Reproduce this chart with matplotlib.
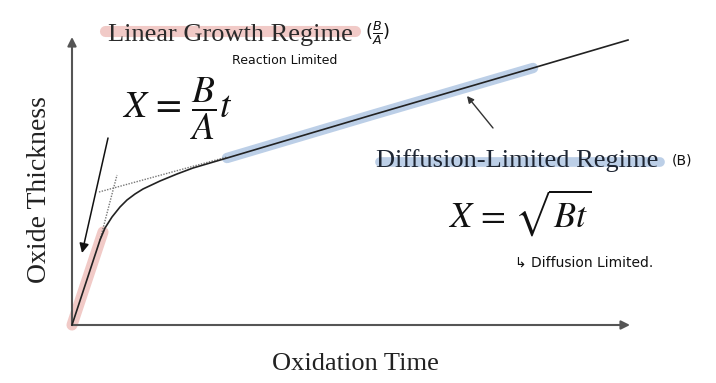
import matplotlib
matplotlib.use("Agg")
import matplotlib.pyplot as plt

plt.rcParams['mathtext.fontset'] = 'stix'

# ---- data (time, thickness) in arbitrary units ----
oxidation_time = [0, 28, 33, 40, 48, 55, 63, 71, 88, 105, 121, 138, 155, 300, 461, 556]
oxide_thickness = [0, 85, 97, 108, 118, 125, 131, 136, 144, 151, 157, 162, 167, 210, 257, 285]

linear_regime_time = [0, 31]
linear_regime_thick = [0, 93]
diffusion_regime_time = [155, 300, 461]
diffusion_regime_thick = [167, 210, 257]

tangent_parabolic_time = [27, 155]
tangent_parabolic_thick = [133, 168]
tangent_linear_time = [28, 45]
tangent_linear_thick = [85, 150]

x_label = "Oxidation Time"
y_label = "Oxide Thickness"
linear_title = "Linear Growth Regime"
diffusion_title = "Diffusion-Limited Regime"

fig = plt.figure(figsize=(7.16, 3.83), dpi=100)
ax = fig.add_axes([0, 0, 1, 1])
ax.set_xlim(-72, 644)
ax.set_ylim(-58, 325)
ax.axis('off')

red_hl = '#f1cac7'
blue_hl = '#bccfe7'
axis_col = '#555555'
serif = 'Liberation Serif'

# axes with arrows
ax.annotate('', xy=(0, 288), xytext=(0, 0),
            arrowprops=dict(arrowstyle='-|>', color=axis_col, lw=1.5, mutation_scale=13, shrinkA=0, shrinkB=0))
ax.annotate('', xy=(558, 0), xytext=(0, 0),
            arrowprops=dict(arrowstyle='-|>', color=axis_col, lw=1.5, mutation_scale=13, shrinkA=0, shrinkB=0))

# highlights along curve
ax.plot(linear_regime_time, linear_regime_thick, color=red_hl, lw=8, solid_capstyle='round', zorder=1)
ax.plot(diffusion_regime_time, diffusion_regime_thick, color=blue_hl, lw=7.5, solid_capstyle='round', zorder=1)

# tangent dotted lines
ax.plot(tangent_parabolic_time, tangent_parabolic_thick, color='#777777', lw=1.0, ls=(0, (1, 1)), zorder=2)
ax.plot(tangent_linear_time, tangent_linear_thick, color='#777777', lw=1.0, ls=(0, (1, 1)), zorder=2)

# main curve
ax.plot(oxidation_time, oxide_thickness, color='#222222', lw=1.2, zorder=3)

# annotation arrows
ax.annotate('', xy=(10, 72), xytext=(36, 187),
            arrowprops=dict(arrowstyle='-|>', color='#111111', lw=1.1, mutation_scale=14, shrinkA=0, shrinkB=0))
ax.annotate('', xy=(395, 229), xytext=(421, 197),
            arrowprops=dict(arrowstyle='-|>', color='#333333', lw=1.0, mutation_scale=10, shrinkA=0, shrinkB=0))

# title highlights
ax.plot([33, 283], [294, 294], color=red_hl, lw=8, solid_capstyle='round', zorder=1)
ax.plot([308, 588], [163, 163], color=blue_hl, lw=7, solid_capstyle='round', zorder=1)

# serif texts
ax.text(36, 284, linear_title, family=serif, fontsize=19, color='#2a2a2a', ha='left', va='baseline', zorder=4)
ax.text(304, 158, diffusion_title, family=serif, fontsize=19, color='#1e2633', ha='left', va='baseline', zorder=4)
ax.text(283, -45, x_label, family=serif, fontsize=19, color='#222222', ha='center', va='baseline')
ax.text(-32, 135, y_label, family=serif, fontsize=20, color='#222222', ha='center', va='center', rotation=90)

# equations
ax.text(50, 208, r'$X\,=\,\dfrac{B}{A}t$', fontsize=27, color='#111111', ha='left', va='baseline', zorder=4)
ax.text(376, 98, r'$X\,=\,\sqrt{Bt}$', fontsize=26, color='#111111', ha='left', va='baseline', zorder=4)

# handwritten notes
hand = dict(family='DejaVu Sans', color='#111111', zorder=4)
ax.text(293, 292, r'$(\frac{B}{A})$', fontsize=13, ha='left', va='center', math_fontfamily='dejavusans', **hand)
ax.text(160, 264, 'Reaction Limited', fontsize=9, ha='left', va='center', **hand)
ax.text(600, 165, '(B)', fontsize=10, ha='left', va='center', **hand)
ax.text(443, 62, '\u21b3 Diffusion Limited.', fontsize=10, ha='left', va='center', **hand)

fig.savefig('out.png', dpi=100)
